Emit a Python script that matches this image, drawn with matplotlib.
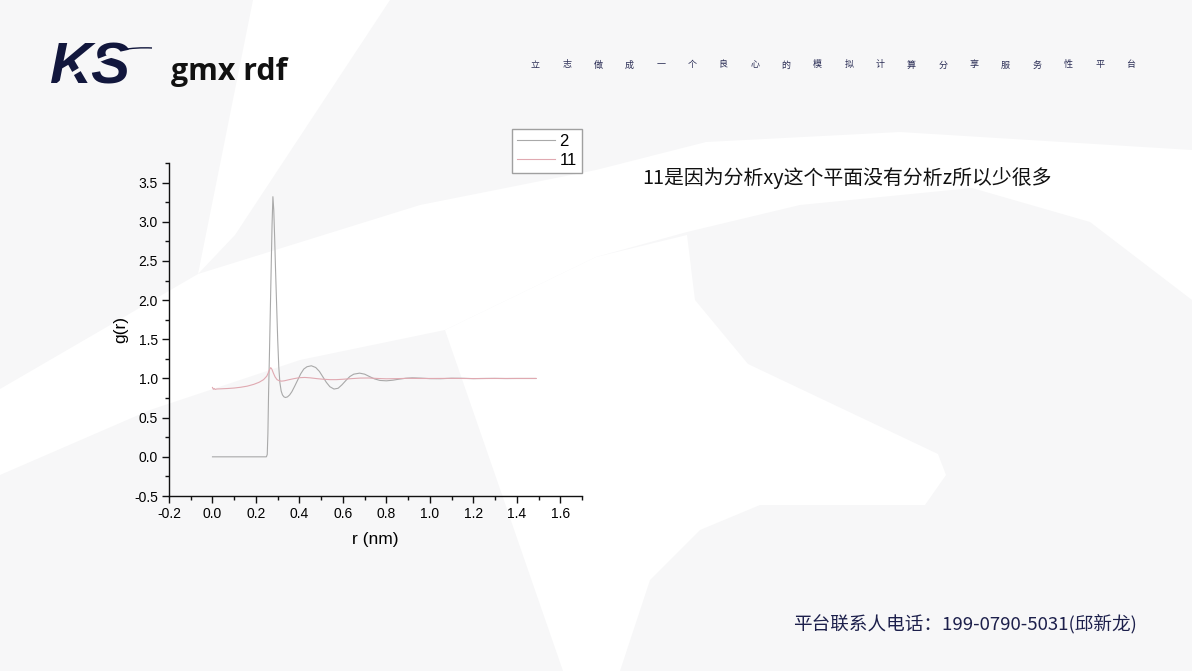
import matplotlib
matplotlib.use("Agg")
import matplotlib.pyplot as plt
from matplotlib.patches import Polygon, PathPatch
from matplotlib.path import Path
from matplotlib.ticker import MultipleLocator

# ---------------- data ----------------
r_2 = [0.000, 0.100, 0.200, 0.248, 0.252, 0.255, 0.258, 0.262, 0.266, 0.270,
       0.274, 0.278, 0.282, 0.286, 0.290, 0.295, 0.300, 0.305, 0.310, 0.316,
       0.322, 0.329, 0.336, 0.345, 0.355, 0.365, 0.378, 0.392, 0.406, 0.420,
       0.435, 0.455, 0.475, 0.492, 0.508, 0.524, 0.540, 0.559, 0.578, 0.596,
       0.614, 0.632, 0.650, 0.677, 0.700, 0.722, 0.745, 0.770, 0.800, 0.830,
       0.860, 0.890, 0.920, 0.960, 1.000, 1.050, 1.100, 1.150, 1.200, 1.250,
       1.300, 1.350, 1.400, 1.450, 1.485]
g_2 = [0, 0, 0, 0, 0.03, 0.30, 0.80, 1.30, 1.85, 2.40,
       2.95, 3.32, 3.15, 2.80, 2.40, 1.95, 1.50, 1.15, 0.95, 0.84,
       0.79, 0.765, 0.757, 0.765, 0.79, 0.83, 0.90, 0.98, 1.06, 1.12,
       1.15, 1.162, 1.14, 1.09, 1.02, 0.95, 0.895, 0.865, 0.875, 0.92,
       0.975, 1.025, 1.055, 1.068, 1.055, 1.025, 0.995, 0.975, 0.970, 0.978,
       0.992, 1.003, 1.008, 1.004, 0.998, 0.997, 1.003, 1.002, 0.998, 1.000,
       1.001, 0.999, 1.000, 1.000, 1.000]

r_11 = [0.000, 0.004, 0.008, 0.012, 0.020, 0.040, 0.070, 0.100, 0.130, 0.160,
        0.190, 0.215, 0.235, 0.250, 0.258, 0.264, 0.268, 0.273, 0.280, 0.288,
        0.297, 0.308, 0.318, 0.330, 0.350, 0.375, 0.400, 0.425, 0.450, 0.480,
        0.510, 0.540, 0.570, 0.600, 0.640, 0.680, 0.720, 0.760, 0.800, 0.850,
        0.900, 0.950, 1.000, 1.100, 1.200, 1.300, 1.400, 1.490]
g_11 = [0.885, 0.862, 0.872, 0.860, 0.866, 0.868, 0.872, 0.878, 0.888, 0.902,
        0.925, 0.952, 0.985, 1.030, 1.080, 1.120, 1.138, 1.120, 1.070, 1.020,
        0.985, 0.970, 0.966, 0.970, 0.983, 0.998, 1.010, 1.013, 1.008, 0.998,
        0.990, 0.985, 0.985, 0.990, 0.998, 1.005, 1.006, 1.000, 0.996, 0.998,
        1.002, 1.000, 1.000, 1.001, 0.999, 1.000, 1.000, 1.000]

series_labels = ["2", "11"]
x_ticks = [-0.2, 0.0, 0.2, 0.4, 0.6, 0.8, 1.0, 1.2, 1.4, 1.6]
x_tick_labels = ["-0.2", "0.0", "0.2", "0.4", "0.6", "0.8", "1.0", "1.2", "1.4", "1.6"]
y_ticks = [-0.5, 0.0, 0.5, 1.0, 1.5, 2.0, 2.5, 3.0, 3.5]
y_tick_labels = ["-0.5", "0.0", "0.5", "1.0", "1.5", "2.0", "2.5", "3.0", "3.5"]
x_label = "r (nm)"
y_label = "g(r)"
title = "gmx rdf"
slogan = "立志做成一个良心的模拟计算分享服务性平台"
note = "11是因为分析xy这个平面没有分析z所以少很多"
contact = "平台联系人电话：199-0790-5031(邱新龙)"

# ---------------- figure ----------------
W, H = 1192, 671
fig = plt.figure(figsize=(W / 100, H / 100), dpi=100)
bgcol = "#f7f7f8"
fig.patch.set_facecolor(bgcol)

bg = fig.add_axes([0, 0, 1, 1], zorder=0)
bg.set_xlim(0, W)
bg.set_ylim(H, 0)
bg.axis("off")
bg.patch.set_alpha(0)

white = "#ffffff"
shapes = [
    [(253, 0), (390, 0), (235, 235), (198, 274)],
    [(0, 389), (198, 274), (420, 205), (596, 170), (706, 142), (900, 132), (1192, 150),
     (1192, 190), (972, 188), (800, 205), (687, 232), (596, 257), (445, 330),
     (300, 360), (150, 410), (0, 475)],
    [(445, 330), (596, 257), (687, 235), (695, 300), (748, 364), (938, 454), (946, 475),
     (925, 505), (760, 505), (700, 530), (650, 580), (620, 671), (563, 671)],
    [(972, 188), (1090, 222), (1192, 300), (1192, 150)],
]
for s in shapes:
    bg.add_patch(Polygon(s, closed=True, facecolor=white, edgecolor="none", zorder=0))

navy = "#12173d"
# logo
bg.text(50, 84, "KS", fontsize=42, fontweight="bold", fontstyle="italic",
        family="Liberation Sans", color=navy, va="baseline", ha="left", zorder=2)
sw = Path([(56, 86), (85, 62), (115, 52), (148, 49)],
          [Path.MOVETO, Path.CURVE4, Path.CURVE4, Path.CURVE4])
bg.add_patch(PathPatch(sw, facecolor="none", edgecolor=bgcol, lw=2.6, zorder=3))
sw2 = Path([(120, 50), (132, 48), (142, 47.5), (152, 48)],
           [Path.MOVETO, Path.CURVE4, Path.CURVE4, Path.CURVE4])
bg.add_patch(PathPatch(sw2, facecolor="none", edgecolor=navy, lw=1.0, zorder=3))

bg.text(171, 72, title, fontsize=21.8, fontweight="bold", family="Open Sans",
        color="#111111", va="center", ha="left", zorder=2)

cjk = ["Noto Sans CJK SC", "DejaVu Sans"]
x0, x1 = 535.5, 1131
n = len(slogan)
for i, ch in enumerate(slogan):
    bg.text(x0 + (x1 - x0) * i / (n - 1), 65, ch, fontsize=6.5, family=cjk,
            color="#2a2d55", ha="center", va="center", zorder=2)

bg.text(642, 178, note, fontsize=14.3, family=cjk, color="#111111",
        ha="left", va="center", zorder=2)
bg.text(793, 624, contact, fontsize=13.4, family=cjk, color="#1c1f4b",
        ha="left", va="center", zorder=2)

# ---------------- chart ----------------
ax = fig.add_axes([169 / W, 1 - 496 / H, 413 / W, 333 / H], zorder=1)
ax.patch.set_alpha(0)
l1, = ax.plot(r_2, g_2, color="#a9a9a9", lw=0.8, label=series_labels[0])
l2, = ax.plot(r_11, g_11, color="#e0a9b1", lw=0.8, label=series_labels[1])

ax.set_xlim(-0.2, 1.70)
ax.set_ylim(-0.5, 3.75)
ax.xaxis.set_minor_locator(MultipleLocator(0.1))
ax.yaxis.set_minor_locator(MultipleLocator(0.25))
ax.set_xticks(x_ticks)
ax.set_xticklabels(x_tick_labels)
ax.set_yticks(y_ticks)
ax.set_yticklabels(y_tick_labels)

for sp in ["top", "right"]:
    ax.spines[sp].set_visible(False)
for sp in ["left", "bottom"]:
    ax.spines[sp].set_linewidth(1.0)
    ax.spines[sp].set_color("#111111")
ax.tick_params(which="major", direction="out", length=5, width=1.0, color="#111111",
               labelsize=10, pad=3)
ax.tick_params(which="minor", direction="out", length=3, width=1.0, color="#111111")
for lab in ax.get_xticklabels() + ax.get_yticklabels():
    lab.set_family("Liberation Sans")
ax.set_xlabel(x_label, fontsize=12.5, family="Liberation Sans", labelpad=8)
ax.set_ylabel(y_label, fontsize=12.5, family="Liberation Sans", labelpad=4)

leg = fig.legend(handles=[l1, l2], loc="upper left",
                 bbox_to_anchor=(512 / W, 1 - 129 / H),
                 frameon=True, fancybox=False, framealpha=1,
                 prop={"family": "Liberation Sans", "size": 12},
                 handlelength=2.3, handletextpad=0.25, borderpad=0.3,
                 labelspacing=0.25, borderaxespad=0)
leg.get_frame().set_edgecolor("#a0a0a0")
leg.get_frame().set_linewidth(1.0)
leg.get_frame().set_facecolor("white")

fig.savefig("out.png", dpi=100, facecolor=fig.get_facecolor())
